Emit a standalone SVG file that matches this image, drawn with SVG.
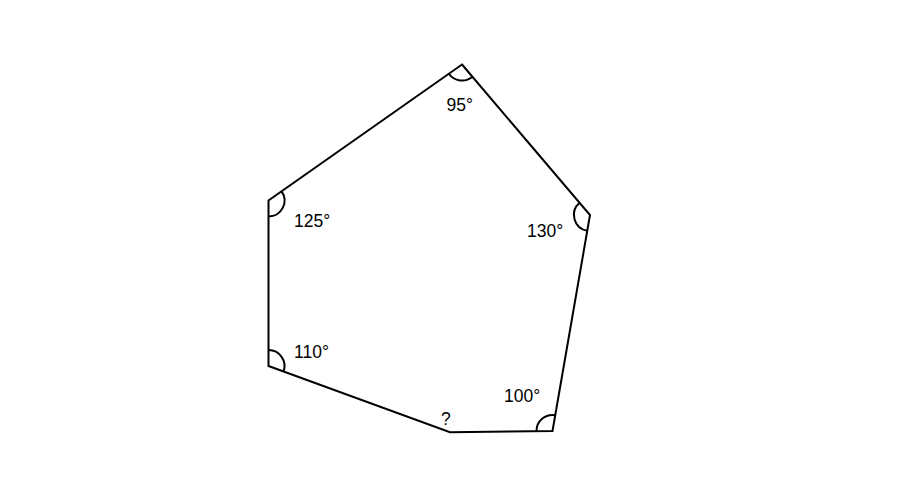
<svg xmlns="http://www.w3.org/2000/svg" width="917" height="502" viewBox="0 0 917 502">
<style>
.edge{fill:none;stroke:#000;stroke-width:2;stroke-linejoin:miter}
.arc{fill:none;stroke:#000;stroke-width:2}
.lbl{font-family:"Liberation Sans",Arial,sans-serif;font-size:17.5px;fill:#000}
</style>
<rect width="917" height="502" fill="#fff"/>
<g id="pentagon">
<polygon class="edge" points="462,64.5 590,215 552.5,431 450,432.3 268.5,366 268.5,200.5"/>
</g>
<g id="angle-marks">
<path class="arc" d="M448.9,73.7 A16,16 0 0 0 472.4,76.7"/>
<path class="arc" d="M579.6,202.8 A16,16 0 0 0 587.3,230.8"/>
<path class="arc" d="M555.2,415.2 A16,16 0 0 0 536.5,431.2"/>
<path class="arc" d="M283.5,371.5 A16,16 0 0 0 268.5,350"/>
<path class="arc" d="M268.5,216.5 A16,16 0 0 0 281.6,191.3"/>
</g>
<g id="labels">
<text class="lbl" x="446.5" y="111">95°</text>
<text class="lbl" x="527" y="237">130°</text>
<text class="lbl" x="294" y="226.5">125°</text>
<text class="lbl" x="294" y="358">110°</text>
<text class="lbl" x="504" y="401.5">100°</text>
<text class="lbl" x="441" y="424.5">?</text>
</g>
</svg>
